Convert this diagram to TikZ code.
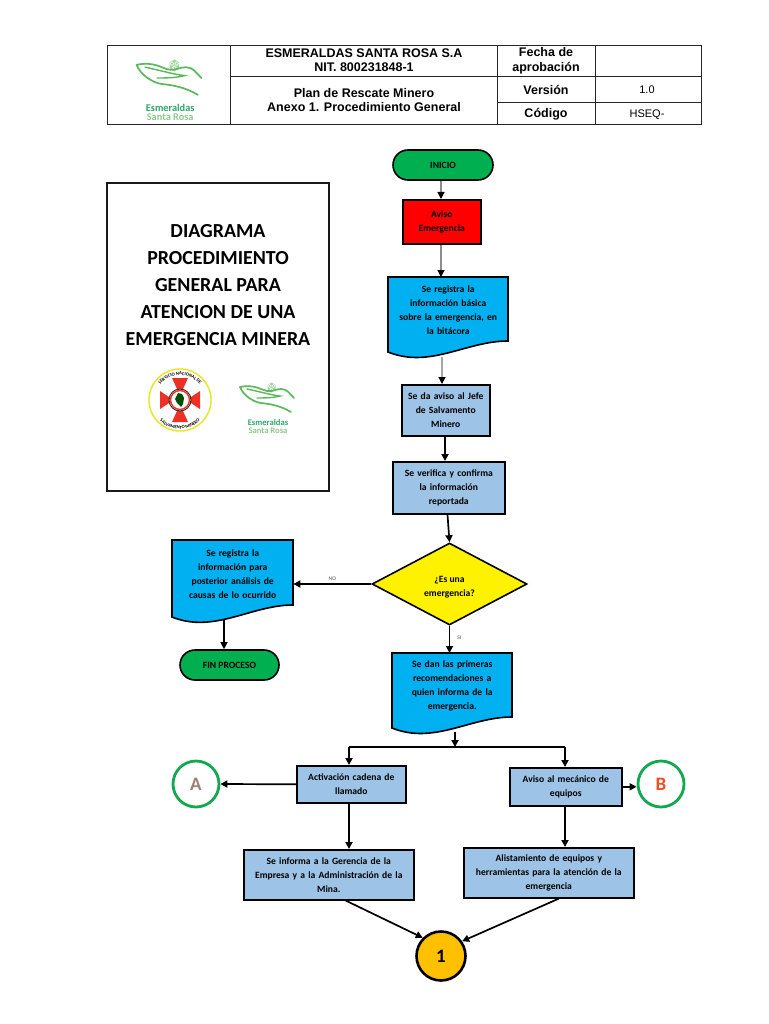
\documentclass[tikz,border=0pt]{standalone}
\usepackage{fontspec}
\setmainfont{Carlito}
\newfontfamily\hdrfont{Liberation Sans}
\usetikzlibrary{arrows.meta,shapes.geometric,shapes.misc,decorations.text}
\definecolor{docblue}{HTML}{00B0F0}
\definecolor{boxblue}{HTML}{9DC3E6}
\definecolor{startgreen}{HTML}{00B050}
\definecolor{ringgreen}{HTML}{12A84F}
\definecolor{logogreen}{HTML}{5CB85C}
\definecolor{logotext}{HTML}{2FA56B}
\definecolor{logotextb}{HTML}{8CC98A}
\definecolor{gold}{HTML}{FFC000}
\definecolor{sealred}{HTML}{EE3124}
\definecolor{sealyellow}{HTML}{E8E61E}
\definecolor{lettera}{HTML}{A08070}
\definecolor{letterb}{HTML}{F04E23}
\newcommand{\fs}[2]{\fontsize{#1}{#2}\selectfont}
\newcommand{\docshape}[7]{% name,x1,y1,x2,yleft,yright,text
  \draw[docedge] (#2,#3) -- (#4,#3) -- (#4,#6)
    .. controls ({#4-42},#6) and ({#2+42},{#5+17}) .. (#2,#5) -- cycle;
  \node[flowtext,text width={(#4-#2-4)*1pt},minimum width={(#4-#2)*1pt},minimum height={(#5-#3-9.5)*1pt},anchor=north west,inner sep=0pt] (#1n) at (#2,#3+0) {#7};
}
\tikzset{
  docedge/.style={draw=black,line width=1.6pt,fill=docblue},
  flowtext/.style={align=center,font=\fs{9.6}{14}\bfseries,text=black},
  procbox/.style={flowtext,draw=black,line width=1.6pt,fill=boxblue,inner sep=0pt,anchor=north west},
  term/.style={flowtext,draw=black,line width=1.6pt,fill=startgreen,rounded rectangle,inner sep=0pt},
  conn/.style={line width=1.7pt,-{Triangle[length=7pt,width=7pt]}},
  conng/.style={draw=black!45,line width=1.2pt,-{Triangle[length=7pt,width=7pt,fill=black,color=black]}},
  small/.style={font=\fs{5.5}{6},text=black!70,inner sep=0pt},
  hdr/.style={font=\hdrfont\fs{12.5}{14.5}\bfseries,align=center,inner sep=0pt},
  hdrr/.style={font=\hdrfont\fs{11}{13},align=center,inner sep=0pt},
  ring/.style={circle,draw=ringgreen,line width=2.8pt,fill=white,minimum size=46pt,inner sep=0pt},
  pics/esmlogo/.style={code={
    \fill[logogreen!55] (0.5,-13) -- (4.5,-15.5) -- (8.5,-13) -- (8.5,-8) -- (4.5,-5.5) -- (0.5,-8) -- cycle;
    \draw[white,line width=.5pt] (2.5,-12) circle (1.6) (6.5,-12) circle (1.6) (4.5,-8.5) circle (1.6);
    \draw[logogreen,line width=1.7pt,line cap=round,line join=round]
      (27,0) .. controls (22,-5) and (20,-9) .. (14,-9) .. controls (8,-9) and (6,-6) .. (0,-7)
      .. controls (-6,-8) and (-12,-14) .. (-27,-11)
      .. controls (-24,-3) and (-14,4) .. (-6,5) .. controls (4,6) and (14,8) .. (24,14);
    \draw[logogreen,line width=1.4pt,line cap=round]
      (-20,-9) .. controls (-10,-7) and (4,-3) .. (13,-2) .. controls (6,0) and (-4,0) .. (-10,0);
    \node[inner sep=0pt,font=\fs{8.6}{9}\bfseries,text=logotext] at (1,25) {Esmeraldas};
    \node[inner sep=0pt,font=\fs{8.6}{9}\bfseries,text=logotextb] at (1,32.5) {Santa Rosa};
  }}
}
\begin{document}
\begin{tikzpicture}[x=1pt,y=-1pt]
\useasboundingbox (0,0) rectangle (768,1024);
\fill[white] (0,0) rectangle (768,1024);
% header table
\draw[line width=1pt,black!85] (107,46) rectangle (701,125);
\draw[line width=1pt,black!85] (230,46) -- (230,125) (497,46) -- (497,125) (595,46) -- (595,125)
  (230,77) -- (701,77) (497,103) -- (701,103);
\pic[scale=1.2,transform shape] at (169,78) {esmlogo};
\node[hdr] (h1) at (364,60) {ESMERALDAS SANTA ROSA S.A\\NIT. 800231848-1};
\node[hdr] (h2) at (364,100) {Plan de Rescate Minero\\Anexo 1. Procedimiento General};
\node[hdr] (h3) at (546,61) {Fecha de\\aprobación};
\node[hdr] (h4) at (546,90) {Versión};
\node[hdr] (h5) at (546,114) {Código};
\node[hdrr] (h6) at (647,90) {1.0};
\node[hdrr] (h7) at (647,115) {HSEQ-};
% title box
\draw[line width=1.8pt,black!90,fill=white] (107,183) rectangle (329,491);
\node[align=center,font=\fs{19.9}{27.2}\bfseries,text=black,inner sep=0pt] (title) at (218,285)
 {DIAGRAMA\\PROCEDIMIENTO\\GENERAL PARA\\ATENCION DE UNA\\EMERGENCIA MINERA};
\pic at (267,398) {esmlogo};
% seal
\begin{scope}[shift={(180,400)}]
  \draw[sealyellow,line width=1.4pt,fill=white] (0,0) circle (31);
  \fill[sealred] (-8,-22) -- (8,-22) -- (3,-11) -- (-3,-11) -- cycle;
  \fill[sealred] (-8,22) -- (8,22) -- (3,11) -- (-3,11) -- cycle;
  \fill[sealred] (-20,-9) -- (-20,9) -- (-11,3) -- (-11,-3) -- cycle;
  \fill[sealred] (20,-9) -- (20,9) -- (11,3) -- (11,-3) -- cycle;
  \draw[black!80,line width=1pt,fill=white] (0,0) circle (11);
  \draw[sealred,line width=1.4pt] (0,0) circle (9.5);
  \fill[black!70!green] (-2,-7) -- (2,-6) -- (4,-2) -- (3,4) -- (1,7) -- (-3,3) -- (-5,-1) -- cycle;
  \path[decorate,decoration={text along path,text align=center,
     text={|\fs{4.6}{5}\bfseries|SERVICIO NACIONAL DE}}]
     (-25,0) arc[start angle=180,end angle=360,radius=25];
  \path[decorate,decoration={text along path,text align=center,
     text={|\fs{4.6}{5}\bfseries|SALVAMENTO MINERO}}]
     (-29,0) arc[start angle=180,end angle=0,radius=29];
\end{scope}
% flow nodes
\node[term,minimum width=100pt,minimum height=30pt] (ini) at (443,165) {INICIO};
\node[procbox,fill=red,minimum width=78pt,minimum height=44pt,text width=70pt] (av) at (402,199) {Aviso\\Emergencia};
\docshape{d1}{388}{277}{508}{352}{341}{Se registra la\\información básica\\sobre la emergencia, en\\la bitácora}
\node[procbox,minimum width=88pt,minimum height=51pt,text width=84pt] (jefe) at (401,384) {Se da aviso al Jefe\\de Salvamento\\Minero};
\node[procbox,minimum width=112pt,minimum height=52pt,text width=104pt] (ver) at (392,461) {Se verifica y confirma\\la información\\reportada};
\node[diamond,draw=black,line width=1.6pt,fill=yellow,aspect=1.9,minimum width=155pt,minimum height=82pt,inner sep=0pt] (dec) at (449.5,584) {};
\node[flowtext,inner sep=0pt] (dect) at (449.5,587) {¿Es una\\emergencia?};
\docshape{d2}{172}{540}{293}{617}{605}{Se registra la\\información para\\posterior análisis de\\causas de lo ocurrido}
\node[term,minimum width=99pt,minimum height=30pt] (fin) at (229.5,665) {FIN PROCESO};
\docshape{d3}{392}{653}{512}{728}{717}{Se dan las primeras\\recomendaciones a\\quien informa de la\\emergencia.}
\node[procbox,minimum width=109pt,minimum height=37pt,text width=100pt] (act) at (296,765) {Activación cadena de\\llamado};
\node[procbox,minimum width=112pt,minimum height=38pt,text width=104pt] (mec) at (509,767) {Aviso al mecánico de\\equipos};
\node[procbox,minimum width=170pt,minimum height=50pt,text width=162pt] (inf) at (243,849) {Se informa a la Gerencia de la\\Empresa y a la Administración de la\\Mina.};
\node[procbox,minimum width=170pt,minimum height=50pt,text width=162pt] (ali) at (463,847) {Alistamiento de equipos y\\herramientas para la atención de la\\emergencia};
\node[ring,font=\fs{19}{20}\bfseries,text=lettera] (A) at (196,784) {A};
\node[ring,font=\fs{19}{20}\bfseries,text=letterb] (B) at (661,784) {B};
\node[circle,draw=black,line width=2.6pt,fill=gold,minimum size=49pt,inner sep=0pt,font=\fs{19}{20}\bfseries] (one) at (441,956) {1};
% connectors
\coordinate (c1) at (441,0);
\draw[conng] (c1 |- ini.south) -- (c1 |- av.north);
\draw[conng] (c1 |- av.south) -- (c1 |- 0,277);
\draw[draw=black!35,line width=1.2pt,-{Triangle[length=7pt,width=7pt,fill=black,color=black]}] (442,0 |- 0,357) -- (442,0 |- jefe.north);
\draw[conn] (445,0 |- jefe.south) -- (445,0 |- ver.north);
\draw[conn] (447.5,0 |- ver.south) -- (dec.north);
\draw[conn] (dec.west) -- node[small,above=2.5pt,pos=.5] (no) {NO} (d2n.east |- dec.west);
\draw[conn] (dec.south) -- node[small,right=7pt,pos=.45] (si) {SI} (dec.south |- d3n.north);
\draw[line width=1.1pt,-{Triangle[length=7pt,width=7pt]}] (224,0 |- 0,619) -- (224,0 |- fin.north);
\coordinate (split) at (455,747);
\draw[conn] (split |- 0,732) -- (split);
\coordinate (splitl) at (349,747);
\coordinate (splitr) at (565,747);
\draw[line width=1.7pt] (splitl) -- (splitr);
\draw[conn] (splitl) -- (splitl |- act.north);
\draw[conn] (splitr) -- (splitr |- mec.north);
\draw[conn] (act.west) -- (A.east);
\draw[conn] (mec.east) -- (B.west |- mec.east);
\draw[conn] (splitl |- act.south) -- (splitl |- inf.north);
\draw[conn] (splitr |- mec.south) -- (splitr |- ali.north);
\draw[conn] ([xshift=17pt]inf.south) -- (one.135);
\draw[conn] ([xshift=10pt]ali.south) -- (one.35);
\end{tikzpicture}
\end{document}
